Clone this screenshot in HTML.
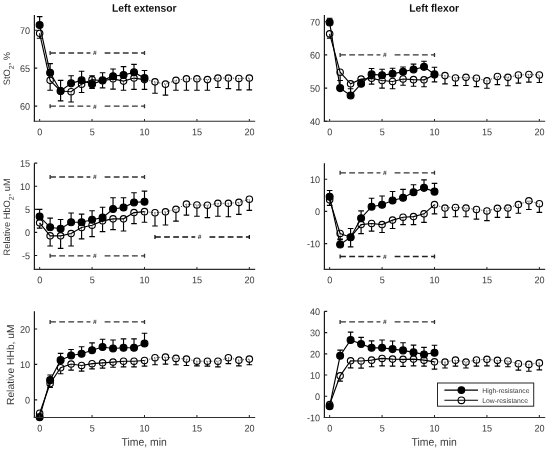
<!DOCTYPE html>
<html lang="en"><head><meta charset="utf-8"><title>Left extensor / Left flexor</title>
<style>html,body{margin:0;padding:0;background:#fff}body{width:550px;height:450px;overflow:hidden}svg{display:block}</style>
</head><body>
<svg width="550" height="450" viewBox="0 0 550 450" text-rendering="geometricPrecision" font-family="'Liberation Sans', sans-serif">
<rect width="550" height="450" fill="#fff"/>
<g>
<g stroke="#333" stroke-width="1.35" fill="none">
<path d="M50.13 53.03H90.39M104.65 53.03H144.5" stroke-dasharray="5.8 3.3"/>
<path d="M50.13 51.03v4M144.5 51.03v4" stroke-width="1.3"/>
</g>
<text x="94.8" y="55.43" font-size="6.4" font-style="italic" font-weight="bold" fill="#2a2a2a" text-anchor="middle">#</text>
<g stroke="#333" stroke-width="1.35" fill="none">
<path d="M50.13 106.13H90.39M104.65 106.13H144.5" stroke-dasharray="5.8 3.3"/>
<path d="M50.13 104.13v4M144.5 104.13v4" stroke-width="1.3"/>
</g>
<text x="94.8" y="108.53" font-size="6.4" font-style="italic" font-weight="bold" fill="#2a2a2a" text-anchor="middle">#</text>
<path d="M39.64 33.31V36.83M50.13 80.34V83.86M60.61 90.96V94.48M71.1 91.72V95.24M81.59 84.13V87.65M92.07 79.58V83.1M102.56 80.72V84.24M113.04 78.82V82.34M123.53 81.1V84.62M134.01 78.06V81.58M144.5 79.58V83.1M154.99 81.85V85.37M165.47 84.13V87.65M175.96 80.34V83.86M186.44 78.82V82.34M196.93 78.82V82.34M207.41 79.58V83.1M217.9 78.06V81.58M228.39 78.06V81.58M238.87 78.44V81.96M249.36 78.06V81.58" stroke="#8a8a8a" stroke-width="1" fill="none"/>
<path d="M39.64 24.96V16.62M36.84 16.62h5.6M50.13 72.75V63.65M47.33 63.65h5.6M60.61 90.96V80.34M57.81 80.34h5.6M71.1 83.37V75.79M68.3 75.79h5.6M81.59 80.34V71.23M78.79 71.23h5.6M92.07 84.13V75.79M89.27 75.79h5.6M102.56 80.34V72.75M99.76 72.75h5.6M113.04 76.16V68.96M110.24 68.96h5.6M123.53 75.03V66.68M120.73 66.68h5.6M134.01 72.37V64.41M131.21 64.41h5.6M144.5 78.06V70.48M141.7 70.48h5.6M39.64 36.83V38.24M36.84 38.24h5.6M50.13 83.86V90.2M47.33 90.2h5.6M60.61 94.48V100.82M57.81 100.82h5.6M71.1 95.24V101.96M68.3 101.96h5.6M81.59 87.65V92.47M78.79 92.47h5.6M92.07 83.1V88.3M89.27 88.3h5.6M102.56 84.24V87.92M99.76 87.92h5.6M113.04 82.34V89.06M110.24 89.06h5.6M123.53 84.62V90.2M120.73 90.2h5.6M134.01 81.58V89.44M131.21 89.44h5.6M144.5 83.1V89.44M141.7 89.44h5.6M154.99 85.37V93.23M152.19 93.23h5.6M165.47 87.65V95.13M162.67 95.13h5.6M175.96 83.86V90.2M173.16 90.2h5.6M186.44 82.34V90.2M183.64 90.2h5.6M196.93 82.34V90.2M194.13 90.2h5.6M207.41 83.1V90.2M204.61 90.2h5.6M217.9 81.58V87.54M215.1 87.54h5.6M228.39 81.58V88.68M225.59 88.68h5.6M238.87 81.96V89.82M236.07 89.82h5.6M249.36 81.58V89.82M246.56 89.82h5.6" stroke="#000" stroke-width="1.15" fill="none"/>
<polyline points="39.64,33.31 50.13,80.34 60.61,90.96 71.1,91.72 81.59,84.13 92.07,79.58 102.56,80.72 113.04,78.82 123.53,81.1 134.01,78.06 144.5,79.58" stroke="#000" stroke-width="1.15" fill="none"/>
<polyline points="144.5,79.58 154.99,81.85 165.47,84.13 175.96,80.34 186.44,78.82 196.93,78.82 207.41,79.58 217.9,78.06 228.39,78.06 238.87,78.44 249.36,78.06" stroke="#222" stroke-width="0.9" stroke-dasharray="1 1.5" fill="none"/>
<polyline points="39.64,24.96 50.13,72.75 60.61,90.96 71.1,83.37 81.59,80.34 92.07,84.13 102.56,80.34 113.04,76.16 123.53,75.03 134.01,72.37 144.5,78.06" stroke="#000" stroke-width="1.15" fill="none"/>
<g fill="#000" stroke="#000" stroke-width="1.15">
<circle cx="39.64" cy="24.96" r="3.45"/>
<circle cx="50.13" cy="72.75" r="3.45"/>
<circle cx="60.61" cy="90.96" r="3.45"/>
<circle cx="71.1" cy="83.37" r="3.45"/>
<circle cx="81.59" cy="80.34" r="3.45"/>
<circle cx="92.07" cy="84.13" r="3.45"/>
<circle cx="102.56" cy="80.34" r="3.45"/>
<circle cx="113.04" cy="76.16" r="3.45"/>
<circle cx="123.53" cy="75.03" r="3.45"/>
<circle cx="134.01" cy="72.37" r="3.45"/>
<circle cx="144.5" cy="78.06" r="3.45"/>
</g>
<g fill="none" stroke="#000" stroke-width="1.15">
<circle cx="39.64" cy="33.31" r="3.22"/>
<circle cx="50.13" cy="80.34" r="3.22"/>
<circle cx="60.61" cy="90.96" r="3.22"/>
<circle cx="71.1" cy="91.72" r="3.22"/>
<circle cx="81.59" cy="84.13" r="3.22"/>
<circle cx="92.07" cy="79.58" r="3.22"/>
<circle cx="102.56" cy="80.72" r="3.22"/>
<circle cx="113.04" cy="78.82" r="3.22"/>
<circle cx="123.53" cy="81.1" r="3.22"/>
<circle cx="134.01" cy="78.06" r="3.22"/>
<circle cx="144.5" cy="79.58" r="3.22"/>
<circle cx="154.99" cy="81.85" r="3.22"/>
<circle cx="165.47" cy="84.13" r="3.22"/>
<circle cx="175.96" cy="80.34" r="3.22"/>
<circle cx="186.44" cy="78.82" r="3.22"/>
<circle cx="196.93" cy="78.82" r="3.22"/>
<circle cx="207.41" cy="79.58" r="3.22"/>
<circle cx="217.9" cy="78.06" r="3.22"/>
<circle cx="228.39" cy="78.06" r="3.22"/>
<circle cx="238.87" cy="78.44" r="3.22"/>
<circle cx="249.36" cy="78.06" r="3.22"/>
</g>
<path d="M34.4 15.1V121.8M34.4 106.13h2.8M34.4 68.2h2.8M34.4 30.27h2.8" stroke="#1a1a1a" stroke-width="1.2" fill="none"/>
<path d="M33.8 121.3H255.2M39.64 121.3v-2.4M92.07 121.3v-2.4M144.5 121.3v-2.4M196.93 121.3v-2.4M249.36 121.3v-2.4" stroke="#2e2e2e" stroke-width="1.05" fill="none"/>
<g font-size="9.6" fill="#3a3a3a">
<text transform="translate(39.74 135.3) rotate(0.03) scale(0.945 1)" text-anchor="middle">0</text>
<text transform="translate(92.17 135.3) rotate(0.03) scale(0.945 1)" text-anchor="middle">5</text>
<text transform="translate(144.6 135.3) rotate(0.03) scale(0.945 1)" text-anchor="middle">10</text>
<text transform="translate(197.03 135.3) rotate(0.03) scale(0.945 1)" text-anchor="middle">15</text>
<text transform="translate(249.46 135.3) rotate(0.03) scale(0.945 1)" text-anchor="middle">20</text>
<text transform="translate(30.1 109.83) rotate(0.03) scale(0.945 1)" text-anchor="end">60</text>
<text transform="translate(30.1 71.9) rotate(0.03) scale(0.945 1)" text-anchor="end">65</text>
<text transform="translate(30.1 33.97) rotate(0.03) scale(0.945 1)" text-anchor="end">70</text>
</g>
</g>
<g>
<g stroke="#333" stroke-width="1.35" fill="none">
<path d="M50.13 177H90.39M104.65 177H144.5" stroke-dasharray="5.8 3.3"/>
<path d="M50.13 175v4M144.5 175v4" stroke-width="1.3"/>
</g>
<text x="94.8" y="179.4" font-size="6.4" font-style="italic" font-weight="bold" fill="#2a2a2a" text-anchor="middle">#</text>
<g stroke="#333" stroke-width="1.35" fill="none">
<path d="M50.13 255.82H90.39M104.65 255.82H144.5" stroke-dasharray="5.8 3.3"/>
<path d="M50.13 253.82v4M144.5 253.82v4" stroke-width="1.3"/>
</g>
<text x="94.8" y="258.22" font-size="6.4" font-style="italic" font-weight="bold" fill="#2a2a2a" text-anchor="middle">#</text>
<g stroke="#111" stroke-width="1.35" fill="none">
<path d="M154.99 237.03H195.25M209.51 237.03H249.36" stroke-dasharray="5.8 3.3"/>
<path d="M154.99 235.03v4M249.36 235.03v4" stroke-width="1.3"/>
</g>
<text x="199.65" y="239.43" font-size="6.4" font-style="italic" font-weight="bold" fill="#2a2a2a" text-anchor="middle">#</text>
<path d="M39.64 222.85V226.37M50.13 235.87V239.39M60.61 235.87V239.39M71.1 233.57V237.09M81.59 227.56V231.08M92.07 225.21V228.73M102.56 220.87V224.39M113.04 218.84V222.36M123.53 218.84V222.36M134.01 212.56V216.08M144.5 211.63V215.15M154.99 212.74V216.26M165.47 211.86V215.38M175.96 209.32V212.84M186.44 204.06V207.58M196.93 204.94V208.46M207.41 205.17V208.69M217.9 203.32V206.84M228.39 203.32V206.84M238.87 202.4V205.92M249.36 199.17V202.69" stroke="#8a8a8a" stroke-width="1" fill="none"/>
<path d="M39.64 216.53V209.32M36.84 209.32h5.6M50.13 227.33V218.1M47.33 218.1h5.6M60.61 228.72V219.48M57.81 219.48h5.6M71.1 222.25V213.02M68.3 213.02h5.6M81.59 222.25V214.17M78.79 214.17h5.6M92.07 219.71V210.71M89.27 210.71h5.6M102.56 217.64V207.25M99.76 207.25h5.6M113.04 209V197.78M110.24 197.78h5.6M123.53 207.48V197.78M120.73 197.78h5.6M134.01 202.4V192.7M131.21 192.7h5.6M144.5 201.71V191.09M141.7 191.09h5.6M39.64 226.37V228.07M36.84 228.07h5.6M50.13 239.39V246.03M47.33 246.03h5.6M60.61 239.39V248.34M57.81 248.34h5.6M71.1 237.09V246.03M68.3 246.03h5.6M81.59 231.08V238.88M78.79 238.88h5.6M92.07 228.73V236.57M89.27 236.57h5.6M102.56 224.39V231.58M99.76 231.58h5.6M113.04 222.36V229.55M110.24 229.55h5.6M123.53 222.36V231.03M120.73 231.03h5.6M134.01 216.08V223.64M131.21 223.64h5.6M144.5 215.15V222.25M141.7 222.25h5.6M154.99 216.26V226.04M152.19 226.04h5.6M165.47 215.38V225.02M162.67 225.02h5.6M175.96 212.84V221.14M173.16 221.14h5.6M186.44 207.58V215.05M183.64 215.05h5.6M196.93 208.46V216.25M194.13 216.25h5.6M207.41 208.69V217.64M204.61 217.64h5.6M217.9 206.84V216.25M215.1 216.25h5.6M228.39 206.84V216.71M225.59 216.71h5.6M238.87 205.92V214.4M236.07 214.4h5.6M249.36 202.69V210.43M246.56 210.43h5.6" stroke="#000" stroke-width="1.15" fill="none"/>
<polyline points="39.64,222.85 50.13,235.87 60.61,235.87 71.1,233.57 81.59,227.56 92.07,225.21 102.56,220.87 113.04,218.84 123.53,218.84 134.01,212.56 144.5,211.63" stroke="#000" stroke-width="1.15" fill="none"/>
<polyline points="144.5,211.63 154.99,212.74 165.47,211.86 175.96,209.32 186.44,204.06 196.93,204.94 207.41,205.17 217.9,203.32 228.39,203.32 238.87,202.4 249.36,199.17" stroke="#222" stroke-width="0.9" stroke-dasharray="1 1.5" fill="none"/>
<polyline points="39.64,216.53 50.13,227.33 60.61,228.72 71.1,222.25 81.59,222.25 92.07,219.71 102.56,217.64 113.04,209 123.53,207.48 134.01,202.4 144.5,201.71" stroke="#000" stroke-width="1.15" fill="none"/>
<g fill="#000" stroke="#000" stroke-width="1.15">
<circle cx="39.64" cy="216.53" r="3.45"/>
<circle cx="50.13" cy="227.33" r="3.45"/>
<circle cx="60.61" cy="228.72" r="3.45"/>
<circle cx="71.1" cy="222.25" r="3.45"/>
<circle cx="81.59" cy="222.25" r="3.45"/>
<circle cx="92.07" cy="219.71" r="3.45"/>
<circle cx="102.56" cy="217.64" r="3.45"/>
<circle cx="113.04" cy="209" r="3.45"/>
<circle cx="123.53" cy="207.48" r="3.45"/>
<circle cx="134.01" cy="202.4" r="3.45"/>
<circle cx="144.5" cy="201.71" r="3.45"/>
</g>
<g fill="none" stroke="#000" stroke-width="1.15">
<circle cx="39.64" cy="222.85" r="3.22"/>
<circle cx="50.13" cy="235.87" r="3.22"/>
<circle cx="60.61" cy="235.87" r="3.22"/>
<circle cx="71.1" cy="233.57" r="3.22"/>
<circle cx="81.59" cy="227.56" r="3.22"/>
<circle cx="92.07" cy="225.21" r="3.22"/>
<circle cx="102.56" cy="220.87" r="3.22"/>
<circle cx="113.04" cy="218.84" r="3.22"/>
<circle cx="123.53" cy="218.84" r="3.22"/>
<circle cx="134.01" cy="212.56" r="3.22"/>
<circle cx="144.5" cy="211.63" r="3.22"/>
<circle cx="154.99" cy="212.74" r="3.22"/>
<circle cx="165.47" cy="211.86" r="3.22"/>
<circle cx="175.96" cy="209.32" r="3.22"/>
<circle cx="186.44" cy="204.06" r="3.22"/>
<circle cx="196.93" cy="204.94" r="3.22"/>
<circle cx="207.41" cy="205.17" r="3.22"/>
<circle cx="217.9" cy="203.32" r="3.22"/>
<circle cx="228.39" cy="203.32" r="3.22"/>
<circle cx="238.87" cy="202.4" r="3.22"/>
<circle cx="249.36" cy="199.17" r="3.22"/>
</g>
<path d="M34.4 163.15V269.85M34.4 255.5h2.8M34.4 232.41h2.8M34.4 209.32h2.8M34.4 186.24h2.8M34.4 163.15h2.8" stroke="#1a1a1a" stroke-width="1.2" fill="none"/>
<path d="M33.8 269.35H255.2M39.64 269.35v-2.4M92.07 269.35v-2.4M144.5 269.35v-2.4M196.93 269.35v-2.4M249.36 269.35v-2.4" stroke="#2e2e2e" stroke-width="1.05" fill="none"/>
<g font-size="9.6" fill="#3a3a3a">
<text transform="translate(39.74 283.35) rotate(0.03) scale(0.945 1)" text-anchor="middle">0</text>
<text transform="translate(92.17 283.35) rotate(0.03) scale(0.945 1)" text-anchor="middle">5</text>
<text transform="translate(144.6 283.35) rotate(0.03) scale(0.945 1)" text-anchor="middle">10</text>
<text transform="translate(197.03 283.35) rotate(0.03) scale(0.945 1)" text-anchor="middle">15</text>
<text transform="translate(249.46 283.35) rotate(0.03) scale(0.945 1)" text-anchor="middle">20</text>
<text transform="translate(30.1 259.2) rotate(0.03) scale(0.945 1)" text-anchor="end">-5</text>
<text transform="translate(30.1 236.11) rotate(0.03) scale(0.945 1)" text-anchor="end">0</text>
<text transform="translate(30.1 213.02) rotate(0.03) scale(0.945 1)" text-anchor="end">5</text>
<text transform="translate(30.1 189.94) rotate(0.03) scale(0.945 1)" text-anchor="end">10</text>
<text transform="translate(30.1 166.85) rotate(0.03) scale(0.945 1)" text-anchor="end">15</text>
</g>
</g>
<g>
<g stroke="#333" stroke-width="1.35" fill="none">
<path d="M50.13 321.92H90.39M104.65 321.92H144.5" stroke-dasharray="5.8 3.3"/>
<path d="M50.13 319.92v4M144.5 319.92v4" stroke-width="1.3"/>
</g>
<text x="94.8" y="324.32" font-size="6.4" font-style="italic" font-weight="bold" fill="#2a2a2a" text-anchor="middle">#</text>
<path d="M50.13 383.52V387.04M60.61 367.76V371.28M71.1 364.05V367.57M81.59 365.46V368.98M92.07 363.69V367.21M102.56 362.81V366.33M113.04 362.1V365.62M123.53 361.21V364.73M134.01 361.21V364.73M144.5 360.51V364.03M154.99 357.67V361.19M165.47 357.14V360.66M175.96 358.38V361.9M186.44 359.09V362.61M196.93 361.21V364.73M207.41 361.21V364.73M217.9 361.21V364.73M228.39 357.67V361.19M238.87 360.15V363.67M249.36 359.09V362.61" stroke="#8a8a8a" stroke-width="1" fill="none"/>
<path d="M50.13 380.15V375.02M47.33 375.02h5.6M60.61 360.15V353.43M57.81 353.43h5.6M71.1 355.55V349.53M68.3 349.53h5.6M81.59 353.78V346.7M78.79 346.7h5.6M92.07 350.24V342.81M89.27 342.81h5.6M102.56 347.05V339.27M99.76 339.27h5.6M113.04 348.47V339.97M110.24 339.97h5.6M123.53 347.76V338.91M120.73 338.91h5.6M134.01 347.76V338.91M131.21 338.91h5.6M144.5 343.51V333.25M141.7 333.25h5.6M50.13 387.04V387.41M47.33 387.41h5.6M60.61 371.28V373.78M57.81 373.78h5.6M71.1 367.57V370.06M68.3 370.06h5.6M81.59 368.98V371.13M78.79 371.13h5.6M92.07 367.21V368.82M89.27 368.82h5.6M102.56 366.33V368.12M99.76 368.12h5.6M113.04 365.62V367.23M110.24 367.23h5.6M123.53 364.73V366.88M120.73 366.88h5.6M134.01 364.73V366.88M131.21 366.88h5.6M144.5 364.03V366.17M141.7 366.17h5.6M154.99 361.19V364.75M152.19 364.75h5.6M165.47 360.66V364.05M162.67 364.05h5.6M175.96 361.9V364.75M173.16 364.75h5.6M186.44 362.61V365.46M183.64 365.46h5.6M196.93 364.73V365.82M194.13 365.82h5.6M207.41 364.73V366.17M204.61 366.17h5.6M217.9 364.73V366.88M215.1 366.88h5.6M228.39 361.19V363.69M225.59 363.69h5.6M238.87 363.67V365.82M236.07 365.82h5.6M249.36 362.61V364.75M246.56 364.75h5.6" stroke="#000" stroke-width="1.15" fill="none"/>
<polyline points="39.64,413.25 50.13,383.52 60.61,367.76 71.1,364.05 81.59,365.46 92.07,363.69 102.56,362.81 113.04,362.1 123.53,361.21 134.01,361.21 144.5,360.51" stroke="#000" stroke-width="1.15" fill="none"/>
<polyline points="144.5,360.51 154.99,357.67 165.47,357.14 175.96,358.38 186.44,359.09 196.93,361.21 207.41,361.21 217.9,361.21 228.39,357.67 238.87,360.15 249.36,359.09" stroke="#222" stroke-width="0.9" stroke-dasharray="1 1.5" fill="none"/>
<polyline points="39.64,417.15 50.13,380.15 60.61,360.15 71.1,355.55 81.59,353.78 92.07,350.24 102.56,347.05 113.04,348.47 123.53,347.76 134.01,347.76 144.5,343.51" stroke="#000" stroke-width="1.15" fill="none"/>
<g fill="#000" stroke="#000" stroke-width="1.15">
<circle cx="39.64" cy="417.15" r="3.45"/>
<circle cx="50.13" cy="380.15" r="3.45"/>
<circle cx="60.61" cy="360.15" r="3.45"/>
<circle cx="71.1" cy="355.55" r="3.45"/>
<circle cx="81.59" cy="353.78" r="3.45"/>
<circle cx="92.07" cy="350.24" r="3.45"/>
<circle cx="102.56" cy="347.05" r="3.45"/>
<circle cx="113.04" cy="348.47" r="3.45"/>
<circle cx="123.53" cy="347.76" r="3.45"/>
<circle cx="134.01" cy="347.76" r="3.45"/>
<circle cx="144.5" cy="343.51" r="3.45"/>
</g>
<g fill="none" stroke="#000" stroke-width="1.15">
<circle cx="39.64" cy="413.25" r="3.22"/>
<circle cx="50.13" cy="383.52" r="3.22"/>
<circle cx="60.61" cy="367.76" r="3.22"/>
<circle cx="71.1" cy="364.05" r="3.22"/>
<circle cx="81.59" cy="365.46" r="3.22"/>
<circle cx="92.07" cy="363.69" r="3.22"/>
<circle cx="102.56" cy="362.81" r="3.22"/>
<circle cx="113.04" cy="362.1" r="3.22"/>
<circle cx="123.53" cy="361.21" r="3.22"/>
<circle cx="134.01" cy="361.21" r="3.22"/>
<circle cx="144.5" cy="360.51" r="3.22"/>
<circle cx="154.99" cy="357.67" r="3.22"/>
<circle cx="165.47" cy="357.14" r="3.22"/>
<circle cx="175.96" cy="358.38" r="3.22"/>
<circle cx="186.44" cy="359.09" r="3.22"/>
<circle cx="196.93" cy="361.21" r="3.22"/>
<circle cx="207.41" cy="361.21" r="3.22"/>
<circle cx="217.9" cy="361.21" r="3.22"/>
<circle cx="228.39" cy="357.67" r="3.22"/>
<circle cx="238.87" cy="360.15" r="3.22"/>
<circle cx="249.36" cy="359.09" r="3.22"/>
</g>
<path d="M34.4 311.3V418M34.4 399.8h2.8M34.4 364.4h2.8M34.4 329h2.8" stroke="#1a1a1a" stroke-width="1.2" fill="none"/>
<path d="M33.8 417.5H255.2M39.64 417.5v-2.4M92.07 417.5v-2.4M144.5 417.5v-2.4M196.93 417.5v-2.4M249.36 417.5v-2.4" stroke="#2e2e2e" stroke-width="1.05" fill="none"/>
<g font-size="9.6" fill="#3a3a3a">
<text transform="translate(39.74 431.5) rotate(0.03) scale(0.945 1)" text-anchor="middle">0</text>
<text transform="translate(92.17 431.5) rotate(0.03) scale(0.945 1)" text-anchor="middle">5</text>
<text transform="translate(144.6 431.5) rotate(0.03) scale(0.945 1)" text-anchor="middle">10</text>
<text transform="translate(197.03 431.5) rotate(0.03) scale(0.945 1)" text-anchor="middle">15</text>
<text transform="translate(249.46 431.5) rotate(0.03) scale(0.945 1)" text-anchor="middle">20</text>
<text transform="translate(30.1 403.5) rotate(0.03) scale(0.945 1)" text-anchor="end">0</text>
<text transform="translate(30.1 368.1) rotate(0.03) scale(0.945 1)" text-anchor="end">10</text>
<text transform="translate(30.1 332.7) rotate(0.03) scale(0.945 1)" text-anchor="end">20</text>
</g>
</g>
<g>
<g stroke="#333" stroke-width="1.35" fill="none">
<path d="M340.13 54.93H380.39M394.65 54.93H434.5" stroke-dasharray="5.8 3.3"/>
<path d="M340.13 52.93v4M434.5 52.93v4" stroke-width="1.3"/>
</g>
<text x="384.8" y="57.33" font-size="6.4" font-style="italic" font-weight="bold" fill="#2a2a2a" text-anchor="middle">#</text>
<path d="M329.64 33.85V37.37M340.13 72.18V75.7M350.61 83.8V87.32M361.1 79.15V82.67M371.59 78.32V81.84M382.07 80.48V84M392.56 81.47V84.99M403.04 78.99V82.51M413.53 79.65V83.17M424.01 79.82V83.34M434.5 74.84V78.36M444.99 75.6V79.12M455.47 77.92V81.44M465.96 77.33V80.85M476.44 78.22V81.74M486.93 80.81V84.33M497.41 76.5V80.02M507.9 77.33V80.85M518.39 75V78.52M528.87 74.51V78.03M539.36 75V78.52" stroke="#8a8a8a" stroke-width="1" fill="none"/>
<path d="M329.64 22.4V18.22M326.84 18.22h5.6M340.13 88.11V80.48M337.33 80.48h5.6M350.61 95.41V88.78M347.81 88.78h5.6M361.1 83.8V79.48M358.3 79.48h5.6M371.59 74.34V68.53M368.79 68.53h5.6M382.07 75.17V69.2M379.27 69.2h5.6M392.56 73.84V68.2M389.76 68.2h5.6M403.04 71.68V67.04M400.24 67.04h5.6M413.53 69.53V64.05M410.73 64.05h5.6M424.01 66.87V61.23M421.21 61.23h5.6M434.5 74.17V67.2M431.7 67.2h5.6M329.64 37.37V38.17M326.84 38.17h5.6M340.13 75.7V80.48M337.33 80.48h5.6M350.61 87.32V88.78M347.81 88.78h5.6M361.1 82.67V82.8M358.3 82.8h5.6M371.59 81.84V84.13M368.79 84.13h5.6M382.07 84V88.11M379.27 88.11h5.6M392.56 84.99V88.78M389.76 88.78h5.6M403.04 82.51V85.29M400.24 85.29h5.6M413.53 83.17V86.29M410.73 86.29h5.6M424.01 83.34V86.78M421.21 86.78h5.6M434.5 78.36V81.81M431.7 81.81h5.6M444.99 79.12V83.8M442.19 83.8h5.6M455.47 81.44V85.62M452.67 85.62h5.6M465.96 80.85V85.46M463.16 85.46h5.6M476.44 81.74V86.62M473.64 86.62h5.6M486.93 84.33V88.28M484.13 88.28h5.6M497.41 80.02V84.63M494.61 84.63h5.6M507.9 80.85V85.79M505.1 85.79h5.6M518.39 78.52V83.13M515.59 83.13h5.6M528.87 78.03V82.14M526.07 82.14h5.6M539.36 78.52V82.47M536.56 82.47h5.6" stroke="#000" stroke-width="1.15" fill="none"/>
<polyline points="329.64,33.85 340.13,72.18 350.61,83.8 361.1,79.15 371.59,78.32 382.07,80.48 392.56,81.47 403.04,78.99 413.53,79.65 424.01,79.82 434.5,74.84" stroke="#000" stroke-width="1.15" fill="none"/>
<polyline points="434.5,74.84 444.99,75.6 455.47,77.92 465.96,77.33 476.44,78.22 486.93,80.81 497.41,76.5 507.9,77.33 518.39,75 528.87,74.51 539.36,75" stroke="#222" stroke-width="0.9" stroke-dasharray="1 1.5" fill="none"/>
<polyline points="329.64,22.4 340.13,88.11 350.61,95.41 361.1,83.8 371.59,74.34 382.07,75.17 392.56,73.84 403.04,71.68 413.53,69.53 424.01,66.87 434.5,74.17" stroke="#000" stroke-width="1.15" fill="none"/>
<g fill="#000" stroke="#000" stroke-width="1.15">
<circle cx="329.64" cy="22.4" r="3.45"/>
<circle cx="340.13" cy="88.11" r="3.45"/>
<circle cx="350.61" cy="95.41" r="3.45"/>
<circle cx="361.1" cy="83.8" r="3.45"/>
<circle cx="371.59" cy="74.34" r="3.45"/>
<circle cx="382.07" cy="75.17" r="3.45"/>
<circle cx="392.56" cy="73.84" r="3.45"/>
<circle cx="403.04" cy="71.68" r="3.45"/>
<circle cx="413.53" cy="69.53" r="3.45"/>
<circle cx="424.01" cy="66.87" r="3.45"/>
<circle cx="434.5" cy="74.17" r="3.45"/>
</g>
<g fill="none" stroke="#000" stroke-width="1.15">
<circle cx="329.64" cy="33.85" r="3.22"/>
<circle cx="340.13" cy="72.18" r="3.22"/>
<circle cx="350.61" cy="83.8" r="3.22"/>
<circle cx="361.1" cy="79.15" r="3.22"/>
<circle cx="371.59" cy="78.32" r="3.22"/>
<circle cx="382.07" cy="80.48" r="3.22"/>
<circle cx="392.56" cy="81.47" r="3.22"/>
<circle cx="403.04" cy="78.99" r="3.22"/>
<circle cx="413.53" cy="79.65" r="3.22"/>
<circle cx="424.01" cy="79.82" r="3.22"/>
<circle cx="434.5" cy="74.84" r="3.22"/>
<circle cx="444.99" cy="75.6" r="3.22"/>
<circle cx="455.47" cy="77.92" r="3.22"/>
<circle cx="465.96" cy="77.33" r="3.22"/>
<circle cx="476.44" cy="78.22" r="3.22"/>
<circle cx="486.93" cy="80.81" r="3.22"/>
<circle cx="497.41" cy="76.5" r="3.22"/>
<circle cx="507.9" cy="77.33" r="3.22"/>
<circle cx="518.39" cy="75" r="3.22"/>
<circle cx="528.87" cy="74.51" r="3.22"/>
<circle cx="539.36" cy="75" r="3.22"/>
</g>
<path d="M324.4 15.1V121.8M324.4 121.3h2.8M324.4 88.11h2.8M324.4 54.93h2.8M324.4 21.74h2.8" stroke="#1a1a1a" stroke-width="1.2" fill="none"/>
<path d="M323.8 121.3H545.2M329.64 121.3v-2.4M382.07 121.3v-2.4M434.5 121.3v-2.4M486.93 121.3v-2.4M539.36 121.3v-2.4" stroke="#2e2e2e" stroke-width="1.05" fill="none"/>
<g font-size="9.6" fill="#3a3a3a">
<text transform="translate(329.74 135.3) rotate(0.03) scale(0.945 1)" text-anchor="middle">0</text>
<text transform="translate(382.17 135.3) rotate(0.03) scale(0.945 1)" text-anchor="middle">5</text>
<text transform="translate(434.6 135.3) rotate(0.03) scale(0.945 1)" text-anchor="middle">10</text>
<text transform="translate(487.03 135.3) rotate(0.03) scale(0.945 1)" text-anchor="middle">15</text>
<text transform="translate(539.46 135.3) rotate(0.03) scale(0.945 1)" text-anchor="middle">20</text>
<text transform="translate(320.1 125) rotate(0.03) scale(0.945 1)" text-anchor="end">40</text>
<text transform="translate(320.1 91.81) rotate(0.03) scale(0.945 1)" text-anchor="end">50</text>
<text transform="translate(320.1 58.63) rotate(0.03) scale(0.945 1)" text-anchor="end">60</text>
<text transform="translate(320.1 25.44) rotate(0.03) scale(0.945 1)" text-anchor="end">70</text>
</g>
</g>
<g>
<g stroke="#333" stroke-width="1.35" fill="none">
<path d="M340.13 172.8H380.39M394.65 172.8H434.5" stroke-dasharray="5.8 3.3"/>
<path d="M340.13 170.8v4M434.5 170.8v4" stroke-width="1.3"/>
</g>
<text x="384.8" y="175.2" font-size="6.4" font-style="italic" font-weight="bold" fill="#2a2a2a" text-anchor="middle">#</text>
<g stroke="#222" stroke-width="1.35" fill="none">
<path d="M340.13 256.48H380.39M394.65 256.48H434.5" stroke-dasharray="5.8 3.3"/>
<path d="M340.13 254.48v4M434.5 254.48v4" stroke-width="1.3"/>
</g>
<text x="384.8" y="258.88" font-size="6.4" font-style="italic" font-weight="bold" fill="#2a2a2a" text-anchor="middle">#</text>
<path d="M329.64 199.84V203.36M340.13 233.47V236.99M350.61 237.17V240.69M361.1 224.62V228.14M371.59 223.49V227.01M382.07 224.62V228.14M392.56 220.11V223.63M403.04 217.22V220.74M413.53 216.57V220.09M424.01 213.84V217.36M434.5 204.66V208.18M444.99 208.04V211.56M455.47 207.43V210.95M465.96 208.04V211.56M476.44 209.49V213.01M486.93 210.94V214.46M497.41 208.33V211.85M507.9 208.04V211.56M518.39 204.54V208.06M528.87 200.8V204.32M539.36 203.7V207.22" stroke="#8a8a8a" stroke-width="1" fill="none"/>
<path d="M329.64 196.72V190.5M326.84 190.5h5.6M340.13 244.57V239.74M337.33 239.74h5.6M350.61 237.17V228.48M347.81 228.48h5.6M361.1 218.18V210.94M358.3 210.94h5.6M371.59 206.66V198.23M368.79 198.23h5.6M382.07 204.79V195.98M379.27 195.98h5.6M392.56 200.48V191.47M389.76 191.47h5.6M403.04 197.75V189.38M400.24 189.38h5.6M413.53 192.21V184.71M410.73 184.71h5.6M424.01 187.87V179.88M421.21 179.88h5.6M434.5 191.63V183.42M431.7 183.42h5.6M329.64 203.36V205.4M326.84 205.4h5.6M340.13 236.99V239.1M337.33 239.1h5.6M350.61 240.69V246.82M347.81 246.82h5.6M361.1 228.14V233.63M358.3 233.63h5.6M371.59 227.01V231.05M368.79 231.05h5.6M382.07 228.14V232.53M379.27 232.53h5.6M392.56 223.63V228.48M389.76 228.48h5.6M403.04 220.74V224.62M400.24 224.62h5.6M413.53 220.09V224.62M410.73 224.62h5.6M424.01 217.36V222.36M421.21 222.36h5.6M434.5 208.18V213.84M431.7 213.84h5.6M444.99 211.56V217.38M442.19 217.38h5.6M455.47 210.95V216.76M452.67 216.76h5.6M465.96 211.56V216.76M463.16 216.76h5.6M476.44 213.01V219.15M473.64 219.15h5.6M486.93 214.46V220.56M484.13 220.56h5.6M497.41 211.85V217.38M494.61 217.38h5.6M507.9 211.56V217.38M505.1 217.38h5.6M518.39 208.06V213.29M515.59 213.29h5.6M528.87 204.32V209.49M526.07 209.49h5.6M539.36 207.22V212.39M536.56 212.39h5.6" stroke="#000" stroke-width="1.15" fill="none"/>
<polyline points="329.64,199.84 340.13,233.47 350.61,237.17 361.1,224.62 371.59,223.49 382.07,224.62 392.56,220.11 403.04,217.22 413.53,216.57 424.01,213.84 434.5,204.66" stroke="#000" stroke-width="1.15" fill="none"/>
<polyline points="434.5,204.66 444.99,208.04 455.47,207.43 465.96,208.04 476.44,209.49 486.93,210.94 497.41,208.33 507.9,208.04 518.39,204.54 528.87,200.8 539.36,203.7" stroke="#222" stroke-width="0.9" stroke-dasharray="1 1.5" fill="none"/>
<polyline points="329.64,196.72 340.13,244.57 350.61,237.17 361.1,218.18 371.59,206.66 382.07,204.79 392.56,200.48 403.04,197.75 413.53,192.21 424.01,187.87 434.5,191.63" stroke="#000" stroke-width="1.15" fill="none"/>
<g fill="#000" stroke="#000" stroke-width="1.15">
<circle cx="329.64" cy="196.72" r="3.45"/>
<circle cx="340.13" cy="244.57" r="3.45"/>
<circle cx="350.61" cy="237.17" r="3.45"/>
<circle cx="361.1" cy="218.18" r="3.45"/>
<circle cx="371.59" cy="206.66" r="3.45"/>
<circle cx="382.07" cy="204.79" r="3.45"/>
<circle cx="392.56" cy="200.48" r="3.45"/>
<circle cx="403.04" cy="197.75" r="3.45"/>
<circle cx="413.53" cy="192.21" r="3.45"/>
<circle cx="424.01" cy="187.87" r="3.45"/>
<circle cx="434.5" cy="191.63" r="3.45"/>
</g>
<g fill="none" stroke="#000" stroke-width="1.15">
<circle cx="329.64" cy="199.84" r="3.22"/>
<circle cx="340.13" cy="233.47" r="3.22"/>
<circle cx="350.61" cy="237.17" r="3.22"/>
<circle cx="361.1" cy="224.62" r="3.22"/>
<circle cx="371.59" cy="223.49" r="3.22"/>
<circle cx="382.07" cy="224.62" r="3.22"/>
<circle cx="392.56" cy="220.11" r="3.22"/>
<circle cx="403.04" cy="217.22" r="3.22"/>
<circle cx="413.53" cy="216.57" r="3.22"/>
<circle cx="424.01" cy="213.84" r="3.22"/>
<circle cx="434.5" cy="204.66" r="3.22"/>
<circle cx="444.99" cy="208.04" r="3.22"/>
<circle cx="455.47" cy="207.43" r="3.22"/>
<circle cx="465.96" cy="208.04" r="3.22"/>
<circle cx="476.44" cy="209.49" r="3.22"/>
<circle cx="486.93" cy="210.94" r="3.22"/>
<circle cx="497.41" cy="208.33" r="3.22"/>
<circle cx="507.9" cy="208.04" r="3.22"/>
<circle cx="518.39" cy="204.54" r="3.22"/>
<circle cx="528.87" cy="200.8" r="3.22"/>
<circle cx="539.36" cy="203.7" r="3.22"/>
</g>
<path d="M324.4 163.15V269.85M324.4 243.6h2.8M324.4 211.42h2.8M324.4 179.24h2.8" stroke="#1a1a1a" stroke-width="1.2" fill="none"/>
<path d="M323.8 269.35H545.2M329.64 269.35v-2.4M382.07 269.35v-2.4M434.5 269.35v-2.4M486.93 269.35v-2.4M539.36 269.35v-2.4" stroke="#2e2e2e" stroke-width="1.05" fill="none"/>
<g font-size="9.6" fill="#3a3a3a">
<text transform="translate(329.74 283.35) rotate(0.03) scale(0.945 1)" text-anchor="middle">0</text>
<text transform="translate(382.17 283.35) rotate(0.03) scale(0.945 1)" text-anchor="middle">5</text>
<text transform="translate(434.6 283.35) rotate(0.03) scale(0.945 1)" text-anchor="middle">10</text>
<text transform="translate(487.03 283.35) rotate(0.03) scale(0.945 1)" text-anchor="middle">15</text>
<text transform="translate(539.46 283.35) rotate(0.03) scale(0.945 1)" text-anchor="middle">20</text>
<text transform="translate(320.1 247.3) rotate(0.03) scale(0.945 1)" text-anchor="end">-10</text>
<text transform="translate(320.1 215.12) rotate(0.03) scale(0.945 1)" text-anchor="end">0</text>
<text transform="translate(320.1 182.94) rotate(0.03) scale(0.945 1)" text-anchor="end">10</text>
</g>
</g>
<g>
<g stroke="#333" stroke-width="1.35" fill="none">
<path d="M340.13 321.92H380.39M394.65 321.92H434.5" stroke-dasharray="5.8 3.3"/>
<path d="M340.13 319.92v4M434.5 319.92v4" stroke-width="1.3"/>
</g>
<text x="384.8" y="324.32" font-size="6.4" font-style="italic" font-weight="bold" fill="#2a2a2a" text-anchor="middle">#</text>
<path d="M340.13 375.87V379.39M350.61 360.79V364.31M361.1 361V364.52M371.59 360.15V363.67M382.07 358.45V361.97M392.56 359.09V362.61M403.04 359.3V362.82M413.53 359.09V362.61M424.01 360.15V363.67M434.5 361.85V365.37M444.99 362.06V365.58M455.47 360.15V363.67M465.96 362.06V365.58M476.44 359.94V363.46M486.93 359.3V362.82M497.41 360.36V363.88M507.9 361V364.52M518.39 363.76V367.28M528.87 364.4V367.92M539.36 362.91V366.43" stroke="#8a8a8a" stroke-width="1" fill="none"/>
<path d="M340.13 355.78V350.17M337.33 350.17h5.6M350.61 339.97V332.12M347.81 332.12h5.6M361.1 344.01V337.43M358.3 337.43h5.6M371.59 347.83V340.82M368.79 340.82h5.6M382.07 347.83V339.97M379.27 339.97h5.6M392.56 349.11V341.04M389.76 341.04h5.6M403.04 350.38V342.74M400.24 342.74h5.6M413.53 352.4V345.07M410.73 345.07h5.6M424.01 354.42V347.41M421.21 347.41h5.6M434.5 352.72V345.28M431.7 345.28h5.6M340.13 379.39V381.18M337.33 381.18h5.6M350.61 364.31V367.8M347.81 367.8h5.6M361.1 364.52V368.12M358.3 368.12h5.6M371.59 363.67V366.74M368.79 366.74h5.6M382.07 361.97V365.89M379.27 365.89h5.6M392.56 362.61V366.1M389.76 366.1h5.6M403.04 362.82V366.42M400.24 366.42h5.6M413.53 362.61V365.89M410.73 365.89h5.6M424.01 363.67V366.1M421.21 366.1h5.6M434.5 365.37V369.07M431.7 369.07h5.6M444.99 365.58V368.01M442.19 368.01h5.6M455.47 363.67V366.1M452.67 366.1h5.6M465.96 365.58V368.01M463.16 368.01h5.6M476.44 363.46V366.1M473.64 366.1h5.6M486.93 362.82V365.89M484.13 365.89h5.6M497.41 363.88V366.1M494.61 366.1h5.6M507.9 364.52V366.74M505.1 366.74h5.6M518.39 367.28V370.13M515.59 370.13h5.6M528.87 367.92V371.2M526.07 371.2h5.6M539.36 366.43V369.92M536.56 369.92h5.6" stroke="#000" stroke-width="1.15" fill="none"/>
<polyline points="329.64,404.54 340.13,375.87 350.61,360.79 361.1,361 371.59,360.15 382.07,358.45 392.56,359.09 403.04,359.3 413.53,359.09 424.01,360.15 434.5,361.85" stroke="#000" stroke-width="1.15" fill="none"/>
<polyline points="434.5,361.85 444.99,362.06 455.47,360.15 465.96,362.06 476.44,359.94 486.93,359.3 497.41,360.36 507.9,361 518.39,363.76 528.87,364.4 539.36,362.91" stroke="#222" stroke-width="0.9" stroke-dasharray="1 1.5" fill="none"/>
<polyline points="329.64,406.18 340.13,355.78 350.61,339.97 361.1,344.01 371.59,347.83 382.07,347.83 392.56,349.11 403.04,350.38 413.53,352.4 424.01,354.42 434.5,352.72" stroke="#000" stroke-width="1.15" fill="none"/>
<g fill="#000" stroke="#000" stroke-width="1.15">
<circle cx="329.64" cy="406.18" r="3.45"/>
<circle cx="340.13" cy="355.78" r="3.45"/>
<circle cx="350.61" cy="339.97" r="3.45"/>
<circle cx="361.1" cy="344.01" r="3.45"/>
<circle cx="371.59" cy="347.83" r="3.45"/>
<circle cx="382.07" cy="347.83" r="3.45"/>
<circle cx="392.56" cy="349.11" r="3.45"/>
<circle cx="403.04" cy="350.38" r="3.45"/>
<circle cx="413.53" cy="352.4" r="3.45"/>
<circle cx="424.01" cy="354.42" r="3.45"/>
<circle cx="434.5" cy="352.72" r="3.45"/>
</g>
<g fill="none" stroke="#000" stroke-width="1.15">
<circle cx="329.64" cy="404.54" r="3.22"/>
<circle cx="340.13" cy="375.87" r="3.22"/>
<circle cx="350.61" cy="360.79" r="3.22"/>
<circle cx="361.1" cy="361" r="3.22"/>
<circle cx="371.59" cy="360.15" r="3.22"/>
<circle cx="382.07" cy="358.45" r="3.22"/>
<circle cx="392.56" cy="359.09" r="3.22"/>
<circle cx="403.04" cy="359.3" r="3.22"/>
<circle cx="413.53" cy="359.09" r="3.22"/>
<circle cx="424.01" cy="360.15" r="3.22"/>
<circle cx="434.5" cy="361.85" r="3.22"/>
<circle cx="444.99" cy="362.06" r="3.22"/>
<circle cx="455.47" cy="360.15" r="3.22"/>
<circle cx="465.96" cy="362.06" r="3.22"/>
<circle cx="476.44" cy="359.94" r="3.22"/>
<circle cx="486.93" cy="359.3" r="3.22"/>
<circle cx="497.41" cy="360.36" r="3.22"/>
<circle cx="507.9" cy="361" r="3.22"/>
<circle cx="518.39" cy="363.76" r="3.22"/>
<circle cx="528.87" cy="364.4" r="3.22"/>
<circle cx="539.36" cy="362.91" r="3.22"/>
</g>
<path d="M324.4 311.3V418M324.4 417.5h2.8M324.4 396.26h2.8M324.4 375.02h2.8M324.4 353.78h2.8M324.4 332.54h2.8M324.4 311.3h2.8" stroke="#1a1a1a" stroke-width="1.2" fill="none"/>
<path d="M323.8 417.5H545.2M329.64 417.5v-2.4M382.07 417.5v-2.4M434.5 417.5v-2.4M486.93 417.5v-2.4M539.36 417.5v-2.4" stroke="#2e2e2e" stroke-width="1.05" fill="none"/>
<g font-size="9.6" fill="#3a3a3a">
<text transform="translate(329.74 431.5) rotate(0.03) scale(0.945 1)" text-anchor="middle">0</text>
<text transform="translate(382.17 431.5) rotate(0.03) scale(0.945 1)" text-anchor="middle">5</text>
<text transform="translate(434.6 431.5) rotate(0.03) scale(0.945 1)" text-anchor="middle">10</text>
<text transform="translate(487.03 431.5) rotate(0.03) scale(0.945 1)" text-anchor="middle">15</text>
<text transform="translate(539.46 431.5) rotate(0.03) scale(0.945 1)" text-anchor="middle">20</text>
<text transform="translate(320.1 421.2) rotate(0.03) scale(0.945 1)" text-anchor="end">-10</text>
<text transform="translate(320.1 399.96) rotate(0.03) scale(0.945 1)" text-anchor="end">0</text>
<text transform="translate(320.1 378.72) rotate(0.03) scale(0.945 1)" text-anchor="end">10</text>
<text transform="translate(320.1 357.48) rotate(0.03) scale(0.945 1)" text-anchor="end">20</text>
<text transform="translate(320.1 336.24) rotate(0.03) scale(0.945 1)" text-anchor="end">30</text>
<text transform="translate(320.1 315) rotate(0.03) scale(0.945 1)" text-anchor="end">40</text>
</g>
</g>
<g font-size="10.9" font-weight="bold" fill="#111" text-anchor="middle">
<text transform="translate(144.3 11.8) rotate(0.03) scale(0.945 1)">Left extensor</text>
<text transform="translate(434.1 11.8) rotate(0.03) scale(0.945 1)">Left flexor</text>
</g>
<g font-size="9.4" fill="#3a3a3a" text-anchor="middle">
<text transform="translate(144.2 445.8) rotate(0.03) scale(0.94 1)" font-size="11.1">Time, min</text>
<text transform="translate(434.2 445.8) rotate(0.03) scale(0.94 1)" font-size="11.1">Time, min</text>
<text transform="translate(10.1 68.6) rotate(-90.03)" font-size="9.3">StO<tspan font-size="7" dy="3.7">2</tspan><tspan dy="-3.7">, %</tspan></text>
<text transform="translate(10.0 216.85) rotate(-90.03)" font-size="9.3">Relative HbO<tspan font-size="7" dy="3.7">2</tspan><tspan dy="-3.7">, uM</tspan></text>
<text transform="translate(14.0 364.7) rotate(-90.03)" font-size="10.3">Relative HHb, uM</text>
</g>
<g>
<rect x="437.5" y="383" width="96.2" height="23.2" fill="#fff" stroke="#262626" stroke-width="1"/>
<path d="M444.4 390.1H478M444.4 400.3H478" stroke="#000" stroke-width="1.1"/>
<circle cx="461.4" cy="390.1" r="3.35" fill="#000" stroke="#000" stroke-width="1.1"/>
<circle cx="461.4" cy="400.3" r="3.35" fill="none" stroke="#000" stroke-width="1.1"/>
<g font-size="6.8" fill="#3a3a3a"><text x="482.3" y="392.6">High-resistance</text><text x="482.3" y="402.8">Low-resistance</text></g>
</g>
</svg>
</body></html>
